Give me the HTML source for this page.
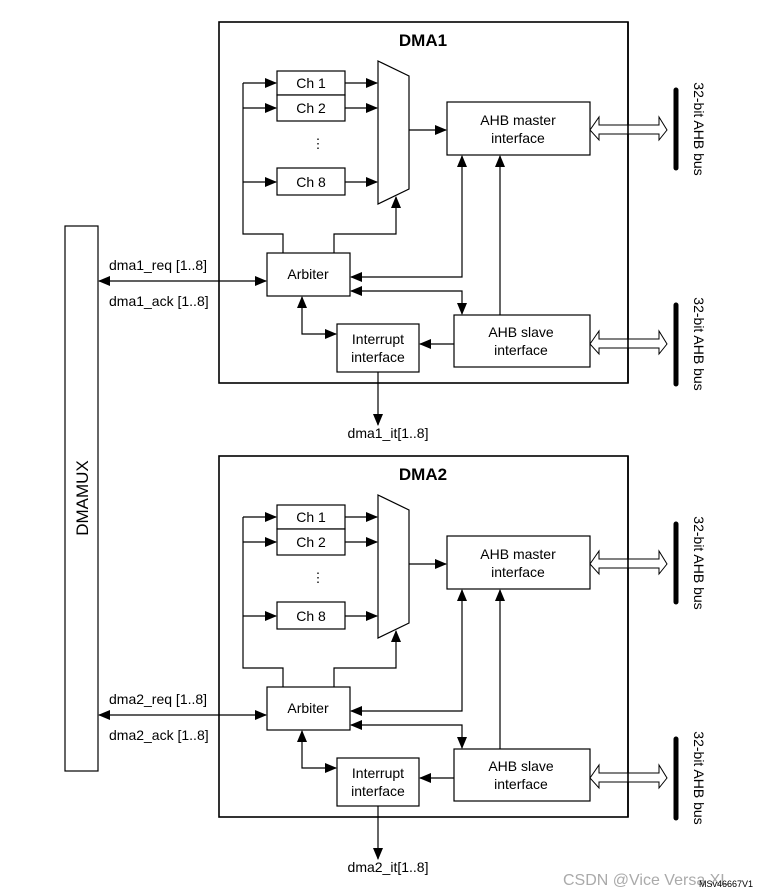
<!DOCTYPE html>
<html><head><meta charset="utf-8"><style>
html,body{margin:0;padding:0;background:#fff;}
svg{display:block;}
text{font-family:"Liberation Sans",Arial,sans-serif;fill:#000;}
</style></head><body>
<svg width="763" height="895" viewBox="0 0 763 895" xmlns="http://www.w3.org/2000/svg">
<defs>
<marker id="a" markerWidth="12" markerHeight="10" refX="11" refY="5" orient="auto-start-reverse" markerUnits="userSpaceOnUse">
<path d="M0,0 L12,5 L0,10 z" fill="#000"/></marker>
<g id="dma">
 <rect x="219" y="22" width="409" height="361" fill="none" stroke="#000" stroke-width="1.6"/>
 <g fill="none" stroke="#000" stroke-width="1.2">
  <rect x="277" y="71" width="68" height="24" fill="#fff"/>
  <rect x="277" y="95" width="68" height="26" fill="#fff"/>
  <rect x="277" y="168" width="68" height="27" fill="#fff"/>
  <path d="M378,61 L409,76 L409,189 L378,204 Z"/>
  <rect x="447" y="102" width="143" height="53"/>
  <rect x="267" y="253" width="83" height="43"/>
  <rect x="454" y="315" width="136" height="52"/>
  <rect x="337" y="324" width="82" height="48"/>
  <path d="M283,253 V234 H243 V83"/>
  <path d="M243,83 H276" marker-end="url(#a)"/>
  <path d="M243,108 H276" marker-end="url(#a)"/>
  <path d="M243,182 H276" marker-end="url(#a)"/>
  <path d="M345,83 H377" marker-end="url(#a)"/>
  <path d="M345,108 H377" marker-end="url(#a)"/>
  <path d="M345,182 H377" marker-end="url(#a)"/>
  <path d="M409,130 H446" marker-end="url(#a)"/>
  <path d="M334,253 V234 H396 V197" marker-end="url(#a)"/>
  <path d="M462,156 V277 H351" marker-start="url(#a)" marker-end="url(#a)"/>
  <path d="M351,291 H462 V314" marker-start="url(#a)" marker-end="url(#a)"/>
  <path d="M500,315 V156" marker-end="url(#a)"/>
  <path d="M454,344 H420" marker-end="url(#a)"/>
  <path d="M302,297 V334 H336" marker-start="url(#a)" marker-end="url(#a)"/>
  <path d="M378,372 V425" marker-end="url(#a)"/>
  <path d="M99,281 H266" marker-start="url(#a)" marker-end="url(#a)"/>
  <path d="M590,130 L599,117 V125 H659 V117 L667,130 L659,140 V134 H599 V140 Z" fill="#fff" stroke-width="1"/>
  <path d="M590,344 L599,331 V339 H659 V331 L667,344 L659,354 V348 H599 V354 Z" fill="#fff" stroke-width="1"/>
 </g>
 <line x1="628" y1="22" x2="628" y2="383" stroke="#000" stroke-width="1.6"/>
 <line x1="676" y1="90" x2="676" y2="168" stroke="#000" stroke-width="5" stroke-linecap="round"/>
 <line x1="676" y1="305" x2="676" y2="384" stroke="#000" stroke-width="5" stroke-linecap="round"/>
 <g font-size="14" text-anchor="middle">
  <text x="311" y="88">Ch 1</text>
  <text x="311" y="113">Ch 2</text>
  <text x="311" y="187">Ch 8</text>
  <text x="318" y="148" font-size="13">⋮</text>
  <text x="518" y="125">AHB master</text>
  <text x="518" y="143">interface</text>
  <text x="308" y="279">Arbiter</text>
  <text x="521" y="337">AHB slave</text>
  <text x="521" y="355">interface</text>
  <text x="378" y="344">Interrupt</text>
  <text x="378" y="362">interface</text>
 </g>
 <text x="690" y="129" font-size="14" text-anchor="middle" transform="rotate(90 690 129)" dy="-4">32-bit AHB bus</text>
 <text x="690" y="344" font-size="14" text-anchor="middle" transform="rotate(90 690 344)" dy="-4">32-bit AHB bus</text>
</g>
</defs>
<use href="#dma"/>
<use href="#dma" y="434"/>
<rect x="65" y="226" width="33" height="545" fill="#fff" stroke="#000" stroke-width="1.2"/>
<text x="88" y="498" font-size="17" text-anchor="middle" transform="rotate(-90 88 498)">DMAMUX</text>
<g font-size="17" font-weight="bold" text-anchor="middle">
<text x="423" y="46">DMA1</text>
<text x="423" y="480">DMA2</text>
</g>
<g font-size="14">
<text x="109" y="270">dma1_req [1..8]</text>
<text x="109" y="306">dma1_ack [1..8]</text>
<text x="109" y="704">dma2_req [1..8]</text>
<text x="109" y="740">dma2_ack [1..8]</text>
<text x="388" y="438" text-anchor="middle">dma1_it[1..8]</text>
<text x="388" y="872" text-anchor="middle">dma2_it[1..8]</text>
</g>
<text x="563" y="885" font-size="16" fill="#aaa" style="fill:#aaa">CSDN @Vice Versa XL</text>
<text x="699" y="887" font-size="9">MSv46667V1</text>
</svg>
</body></html>
